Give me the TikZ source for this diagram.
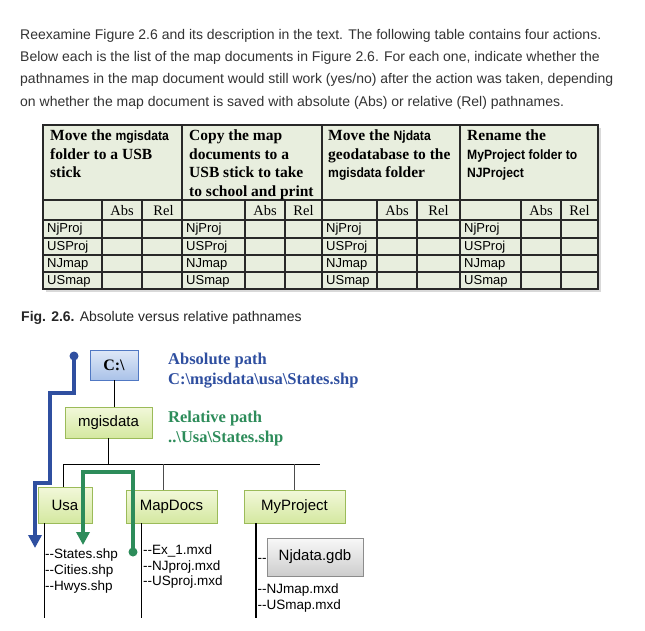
\documentclass[tikz,border=0pt]{standalone}
\usepackage{fontspec}
\setmainfont{Liberation Serif}
\setsansfont{Liberation Sans}
\usetikzlibrary{arrows.meta,shadings}
\definecolor{para}{RGB}{51,51,51}
\definecolor{tbg}{RGB}{232,238,222}
\definecolor{tline}{RGB}{40,40,40}
\definecolor{pblue}{RGB}{47,79,160}
\definecolor{pgreen}{RGB}{45,140,90}
\definecolor{bluetop}{RGB}{222,232,247}
\definecolor{bluebot}{RGB}{170,194,232}
\definecolor{blueedge}{RGB}{80,120,195}
\definecolor{greentop}{RGB}{242,248,218}
\definecolor{greenbot}{RGB}{212,232,160}
\definecolor{greenedge}{RGB}{155,187,89}
\definecolor{graytop}{RGB}{248,248,248}
\definecolor{graybot}{RGB}{205,205,205}
\definecolor{grayedge}{RGB}{140,140,140}
\newcommand\hs[1]{\scalebox{0.9}[1]{\fontsize{13.5}{15}\selectfont\sffamily\bfseries #1}}
\begin{document}
\begin{tikzpicture}[x=1pt,y=-1pt,
  ptext/.style={anchor=base west,inner sep=0,font=\fontsize{14}{16}\selectfont\sffamily,text=para},
  htext/.style={anchor=base west,inner sep=0,font=\fontsize{15.5}{18}\selectfont\rmfamily\bfseries},
  rtext/.style={anchor=base west,inner sep=0,font=\fontsize{13}{14}\selectfont\sffamily},
  artext/.style={anchor=base,inner sep=0,font=\fontsize{14.5}{16}\selectfont\rmfamily},
  tl/.style={draw=tline,line width=1.3pt},
  tlb/.style={draw=tline,line width=1.8pt},
  bluebox/.style={draw=blueedge,line width=0.9pt,top color=bluetop,bottom color=bluebot,inner sep=0,font=\fontsize{16}{18}\selectfont\rmfamily\bfseries},
  greenbox/.style={draw=greenedge,line width=0.9pt,top color=greentop,bottom color=greenbot,inner sep=0,font=\fontsize{15}{18}\selectfont\sffamily},
  graybox/.style={draw=grayedge,line width=0.9pt,top color=graytop,bottom color=graybot,inner sep=0,font=\fontsize{15}{18}\selectfont\sffamily},
  tree/.style={draw=black,line width=0.8pt},
  ftext/.style={anchor=base west,inner sep=0,font=\fontsize{13.5}{16}\selectfont\sffamily},
  lbl/.style={anchor=base west,inner sep=0,font=\fontsize{16.5}{18}\selectfont\rmfamily\bfseries},
  bluepath/.style={draw=pblue,line width=4pt,line join=miter,-{Triangle[width=13pt,length=13pt]}},
  greenpath/.style={draw=pgreen,line width=4pt,line join=miter,-{Triangle[width=13pt,length=13pt]}}
]
\useasboundingbox[fill=white] (0,0) rectangle (645,630);

% paragraph
\node[ptext] (p1) at (20,39) {Reexamine Figure 2.6 and its description in the text. The following table contains four actions.};
\node[ptext] (p2) at (20,61.5) {Below each is the list of the map documents in Figure 2.6. For each one, indicate whether the};
\node[ptext] (p3) at (20,83.8) {pathnames in the map document would still work (yes/no) after the action was taken, depending};
\node[ptext] (p4) at (20,106) {on whether the map document is saved with absolute (Abs) or relative (Rel) pathnames.};

% table
\fill[black!15] (46,128) rectangle (601,292);
\fill[tbg] (43,125) rectangle (598,289);
\foreach \y in {200,220,238,255,272} {\draw[tl] (43,\y) -- (598,\y);}
\foreach \x in {102,142,245,285,377,417,521,561} {\draw[tl] (\x,200) -- (\x,289);}
\foreach \x in {182,322,460} {\draw[tlb] (\x,125) -- (\x,289);}
\draw[tlb] (43,125) rectangle (598,289);

% headers
\node[htext] (h11) at (50,140.7) {Move the \hs{mgisdata}};
\node[htext] (h12) at (50,159.2) {folder to a USB};
\node[htext] (h13) at (50,177.7) {stick};
\node[htext] (h21) at (189,140.7) {Copy the map};
\node[htext] (h22) at (189,159.2) {documents to a};
\node[htext] (h23) at (189,177.7) {USB stick to take};
\node[htext] (h24) at (189,196.2) {to school and print};
\node[htext] (h31) at (328,140.7) {Move the \hs{Njdata}};
\node[htext] (h32) at (328,159.2) {geodatabase to the};
\node[htext] (h33) at (328,177.7) {\hs{mgisdata} folder};
\node[htext] (h41) at (467,140.7) {Rename the};
\node[htext] (h42) at (467,159.2) {\hs{MyProject folder to}};
\node[htext] (h43) at (467,177.7) {\hs{NJProject}};

% Abs / Rel
\foreach \a/\r [count=\i] in {122/163.5,265/303.5,397/438.5,541/579.5} {
  \node[artext] (abs\i) at (\a,215.5) {Abs};
  \node[artext] (rel\i) at (\r,215.5) {Rel};
}
% row labels
\foreach \x [count=\i] in {47,186,326,464} {
  \node[rtext] (r1\i) at (\x,232.5) {NjProj};
  \node[rtext] (r2\i) at (\x,250) {USProj};
  \node[rtext] (r3\i) at (\x,267) {NJmap};
  \node[rtext] (r4\i) at (\x,284.5) {USmap};
}

% caption
\node[anchor=base west,inner sep=0,font=\fontsize{14}{16}\selectfont\sffamily,text=black!85] (cap) at (21,321) {\textbf{Fig. 2.6.} Absolute versus relative pathnames};

% tree boxes
\node[bluebox,minimum width=48pt,minimum height=30pt] (croot) at (114,365) {C:\textbackslash};
\node[greenbox,minimum width=87pt,minimum height=31pt] (mgis) at (108.5,422.5) {mgisdata};
\node[greenbox,minimum width=54pt,minimum height=36pt] (usa) at (65,505) {Usa};
\node[greenbox,minimum width=91pt,minimum height=33pt] (md) at (171.5,506.5) {MapDocs};
\node[greenbox,minimum width=101pt,minimum height=33pt] (mp) at (294.5,506.5) {MyProject};
\node[graybox,minimum width=96pt,minimum height=38pt] (gdb) at (315,557) {Njdata.gdb};

% tree connectors
\coordinate (busL) at (63,464);
\coordinate (busR) at (320,464);
\draw[tree] (busL) -- (busR);
\draw[tree] (croot.south) -- (croot.south |- mgis.north);
\draw[tree] (mgis.south) -- (mgis.south |- busL);
\draw[tree] (usa.north -| busL) -- (busL);
\draw[tree,draw=black!70] ([xshift=-8.5pt]md.north) -- ([xshift=-8.5pt]md.north |- busL);
\draw[tree,draw=black!70] (mp.north) -- (mp.north |- busL);
\coordinate (usaE) at (44,618);
\coordinate (mdE) at (141,618);
\coordinate (mpE) at (256,618);
\draw[tree] (usa.south -| usaE) -- (usaE);
\draw[tree] (md.south -| mdE) -- (mdE);
\draw[tree,line width=1.8pt] (mp.south -| mpE) -- (mpE);

% file lists
\node[ftext] (f1) at (45,558) {-{}-States.shp};
\node[ftext] (f2) at (45,574) {-{}-Cities.shp};
\node[ftext] (f3) at (45,590) {-{}-Hwys.shp};
\node[ftext] (f4) at (143,554) {-{}-Ex\_1.mxd};
\node[ftext] (f5) at (143,570) {-{}-NJproj.mxd};
\node[ftext] (f6) at (143,585.5) {-{}-USproj.mxd};
\node[ftext] (f7) at (257.5,562.5) {-{}-};
\node[ftext] (f8) at (257.5,593) {-{}-NJmap.mxd};
\node[ftext] (f9) at (257.5,609) {-{}-USmap.mxd};

% labels
\node[lbl,text=pblue] (la1) at (168,364.5) {Absolute path};
\node[lbl,text=pblue] (la2) at (168,384) {C:\textbackslash mgisdata\textbackslash usa\textbackslash States.shp};
\node[lbl,text=pgreen] (lr1) at (168,422.5) {Relative path};
\node[lbl,text=pgreen] (lr2) at (168,442.5) {..\textbackslash Usa\textbackslash States.shp};

% paths
\coordinate (bs) at (74,356);
\coordinate (b1) at (74,393);
\coordinate (b2) at (50,393);
\coordinate (b3) at (50,483);
\coordinate (b4) at (35,483);
\coordinate (be) at (35,548);
\draw[bluepath] (bs) -- (b1) -- (b2) -- (b3) -- (b4) -- (be);
\fill[pblue] (bs) circle (4.5);
\coordinate (gs) at (133,552);
\coordinate (g1) at (133,472);
\coordinate (g2) at (83,472);
\coordinate (ge) at (83,545);
\draw[greenpath] (gs) -- (g1) -- (g2) -- (ge);
\fill[pgreen] (gs) circle (4.5);
\end{tikzpicture}
\end{document}
